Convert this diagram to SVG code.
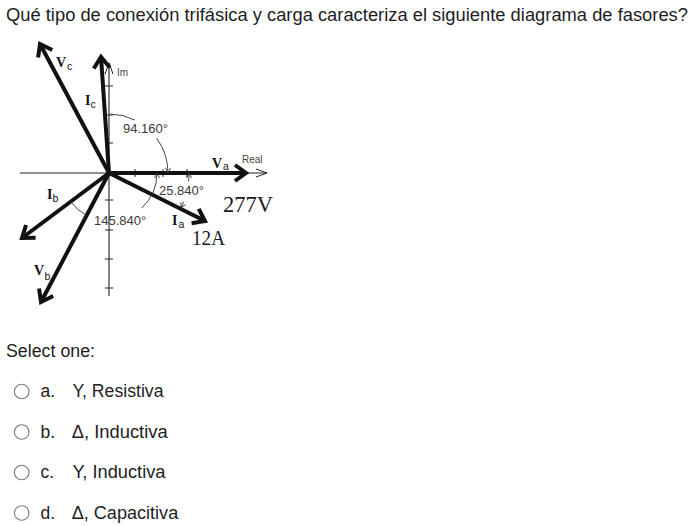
<svg xmlns="http://www.w3.org/2000/svg" width="693" height="526" viewBox="0 0 693 526">
<style>
.ui{font-family:"Liberation Sans",Arial,sans-serif;fill:#1d1d1f;}
.vec{stroke:#111;stroke-width:4;fill:none;marker-end:url(#ah);}
.axis{stroke:#222;stroke-width:1.1;fill:none;}
.tick{stroke:#222;stroke-width:1;}
.arc{stroke:#333;stroke-width:0.9;fill:none;}
.sym{font-family:"Liberation Serif","Times New Roman",serif;font-size:14px;font-weight:bold;fill:#111;}
.sub{font-family:"Liberation Sans",Arial,sans-serif;font-size:10.5px;fill:#111;}
.ang{font-family:"Liberation Sans",Arial,sans-serif;font-size:13px;fill:#3a3a3a;}
.ax{font-family:"Liberation Sans",Arial,sans-serif;font-size:10px;fill:#444;}
.big{font-family:"Liberation Serif","Times New Roman",serif;fill:#1a1a24;}
.radio{fill:#fff;stroke:#7a7a7a;stroke-width:1.1;}
</style>
<defs>
<marker id="ah" markerUnits="userSpaceOnUse" viewBox="-16 -16 32 32" markerWidth="32" markerHeight="32" refX="0" refY="0" orient="auto" overflow="visible">
<path d="M-11,-8 L0,0 L-11,8" fill="none" stroke="#111" stroke-width="4"/>
</marker>
<marker id="ta" markerUnits="userSpaceOnUse" viewBox="-16 -16 32 32" markerWidth="32" markerHeight="32" refX="0" refY="0" orient="auto" overflow="visible">
<path d="M-11,-4 L0,0 L-11,4" fill="none" stroke="#222" stroke-width="1"/>
</marker>
<marker id="sa" markerUnits="userSpaceOnUse" viewBox="-8 -8 16 16" markerWidth="16" markerHeight="16" refX="0" refY="0" orient="auto-start-reverse" overflow="visible">
<path d="M-5,-2.5 L0,0 L-5,2.5" fill="none" stroke="#333" stroke-width="0.9"/>
</marker>
</defs>
<rect width="693" height="526" fill="#fff"/>

<g id="title">
<text class="ui" x="6" y="21" font-size="17.5" textLength="682" lengthAdjust="spacingAndGlyphs">Qué tipo de conexión trifásica y carga caracteriza el siguiente diagrama de fasores?</text>
</g>

<g id="axes">
<path class="axis" d="M20,173 H267" marker-end="url(#ta)"/>
<path class="axis" d="M109,296 V63" marker-end="url(#ta)"/>
<path class="tick" d="M105,86 H113 M105,115 H113 M105,143 H113 M105,200 H113 M105,230 H113 M105,259 H113 M105,288 H113 M135,169 V177 M163,169 V177 M187,169 V177"/>
<text class="ax" x="117" y="76">Im</text>
<text class="ax" x="242" y="163">Real</text>
</g>

<g id="connectors">
<path id="Va" class="vec" d="M109,173 L246,173"/>
<path id="Vc" class="vec" d="M109,173 L40,44"/>
<path id="Ic" class="vec" d="M109,173 L101,57"/>
<path id="Ia" class="vec" d="M109,173 L205,221"/>
<path id="Ib" class="vec" d="M109,173 L22,238"/>
<path id="Vb" class="vec" d="M109,173 L41,302"/>
</g>

<g id="angles">
<path class="arc" d="M110,114 A59,59 0 0 1 134.9,120"/>
<path class="arc" d="M156.7,138.3 A59,59 0 0 1 168,173" marker-end="url(#sa)"/>
<path class="arc" d="M181,207.9 A80,80 0 0 0 183.7,201.7" marker-start="url(#sa)"/>
<path class="arc" d="M188.6,181.4 A80,80 0 0 0 189,173" marker-end="url(#sa)"/>
<path class="arc" d="M70.3,201.3 A48,48 0 0 0 86.5,215.4"/>
<path class="arc" d="M141.7,208.1 A48,48 0 0 0 157,173" marker-end="url(#sa)"/>
<text class="ang" x="123" y="133">94.160°</text>
<text class="ang" x="159" y="195">25.840°</text>
<text class="ang" x="94" y="225">145.840°</text>
</g>

<g id="labels">
<text class="sym" x="56" y="67">V</text><text class="sub" x="67" y="70">c</text>
<text class="sym" x="85" y="105">I</text><text class="sub" x="90.5" y="108">c</text>
<text class="sym" x="212" y="168">V</text><text class="sub" x="223" y="170">a</text>
<text class="sym" x="47" y="199">I</text><text class="sub" x="52.5" y="202">b</text>
<text class="sym" x="172" y="225">I</text><text class="sub" x="178.5" y="228">a</text>
<text class="sym" x="34" y="275">V</text><text class="sub" x="44.5" y="280">b</text>
<text class="big" x="223" y="212" font-size="23" textLength="50" lengthAdjust="spacingAndGlyphs">277V</text>
<text class="big" x="192" y="245" font-size="21" textLength="33" lengthAdjust="spacingAndGlyphs">12A</text>
</g>

<g id="select">
<text class="ui" x="6" y="357" font-size="17.5" textLength="89" lengthAdjust="spacingAndGlyphs">Select one:</text>
</g>
<g id="option-a">
<circle class="radio" cx="21.7" cy="391.5" r="7.3"/>
<text class="ui" x="40.5" y="397" font-size="17.5">a.</text>
<text class="ui" x="72.5" y="397" font-size="17.5" textLength="91" lengthAdjust="spacingAndGlyphs">Y, Resistiva</text>
</g>
<g id="option-b">
<circle class="radio" cx="21.7" cy="432" r="7.3"/>
<text class="ui" x="40.5" y="437.5" font-size="17.5">b.</text>
<text class="ui" x="71.7" y="437.5" font-size="17.5" textLength="96" lengthAdjust="spacingAndGlyphs">Δ, Inductiva</text>
</g>
<g id="option-c">
<circle class="radio" cx="21.7" cy="472.5" r="7.3"/>
<text class="ui" x="40.5" y="478" font-size="17.5">c.</text>
<text class="ui" x="72.5" y="478" font-size="17.5" textLength="93" lengthAdjust="spacingAndGlyphs">Y, Inductiva</text>
</g>
<g id="option-d">
<circle class="radio" cx="21.7" cy="513" r="7.3"/>
<text class="ui" x="40.5" y="518.5" font-size="17.5">d.</text>
<text class="ui" x="71.7" y="518.5" font-size="17.5" textLength="106.5" lengthAdjust="spacingAndGlyphs">Δ, Capacitiva</text>
</g>
</svg>
